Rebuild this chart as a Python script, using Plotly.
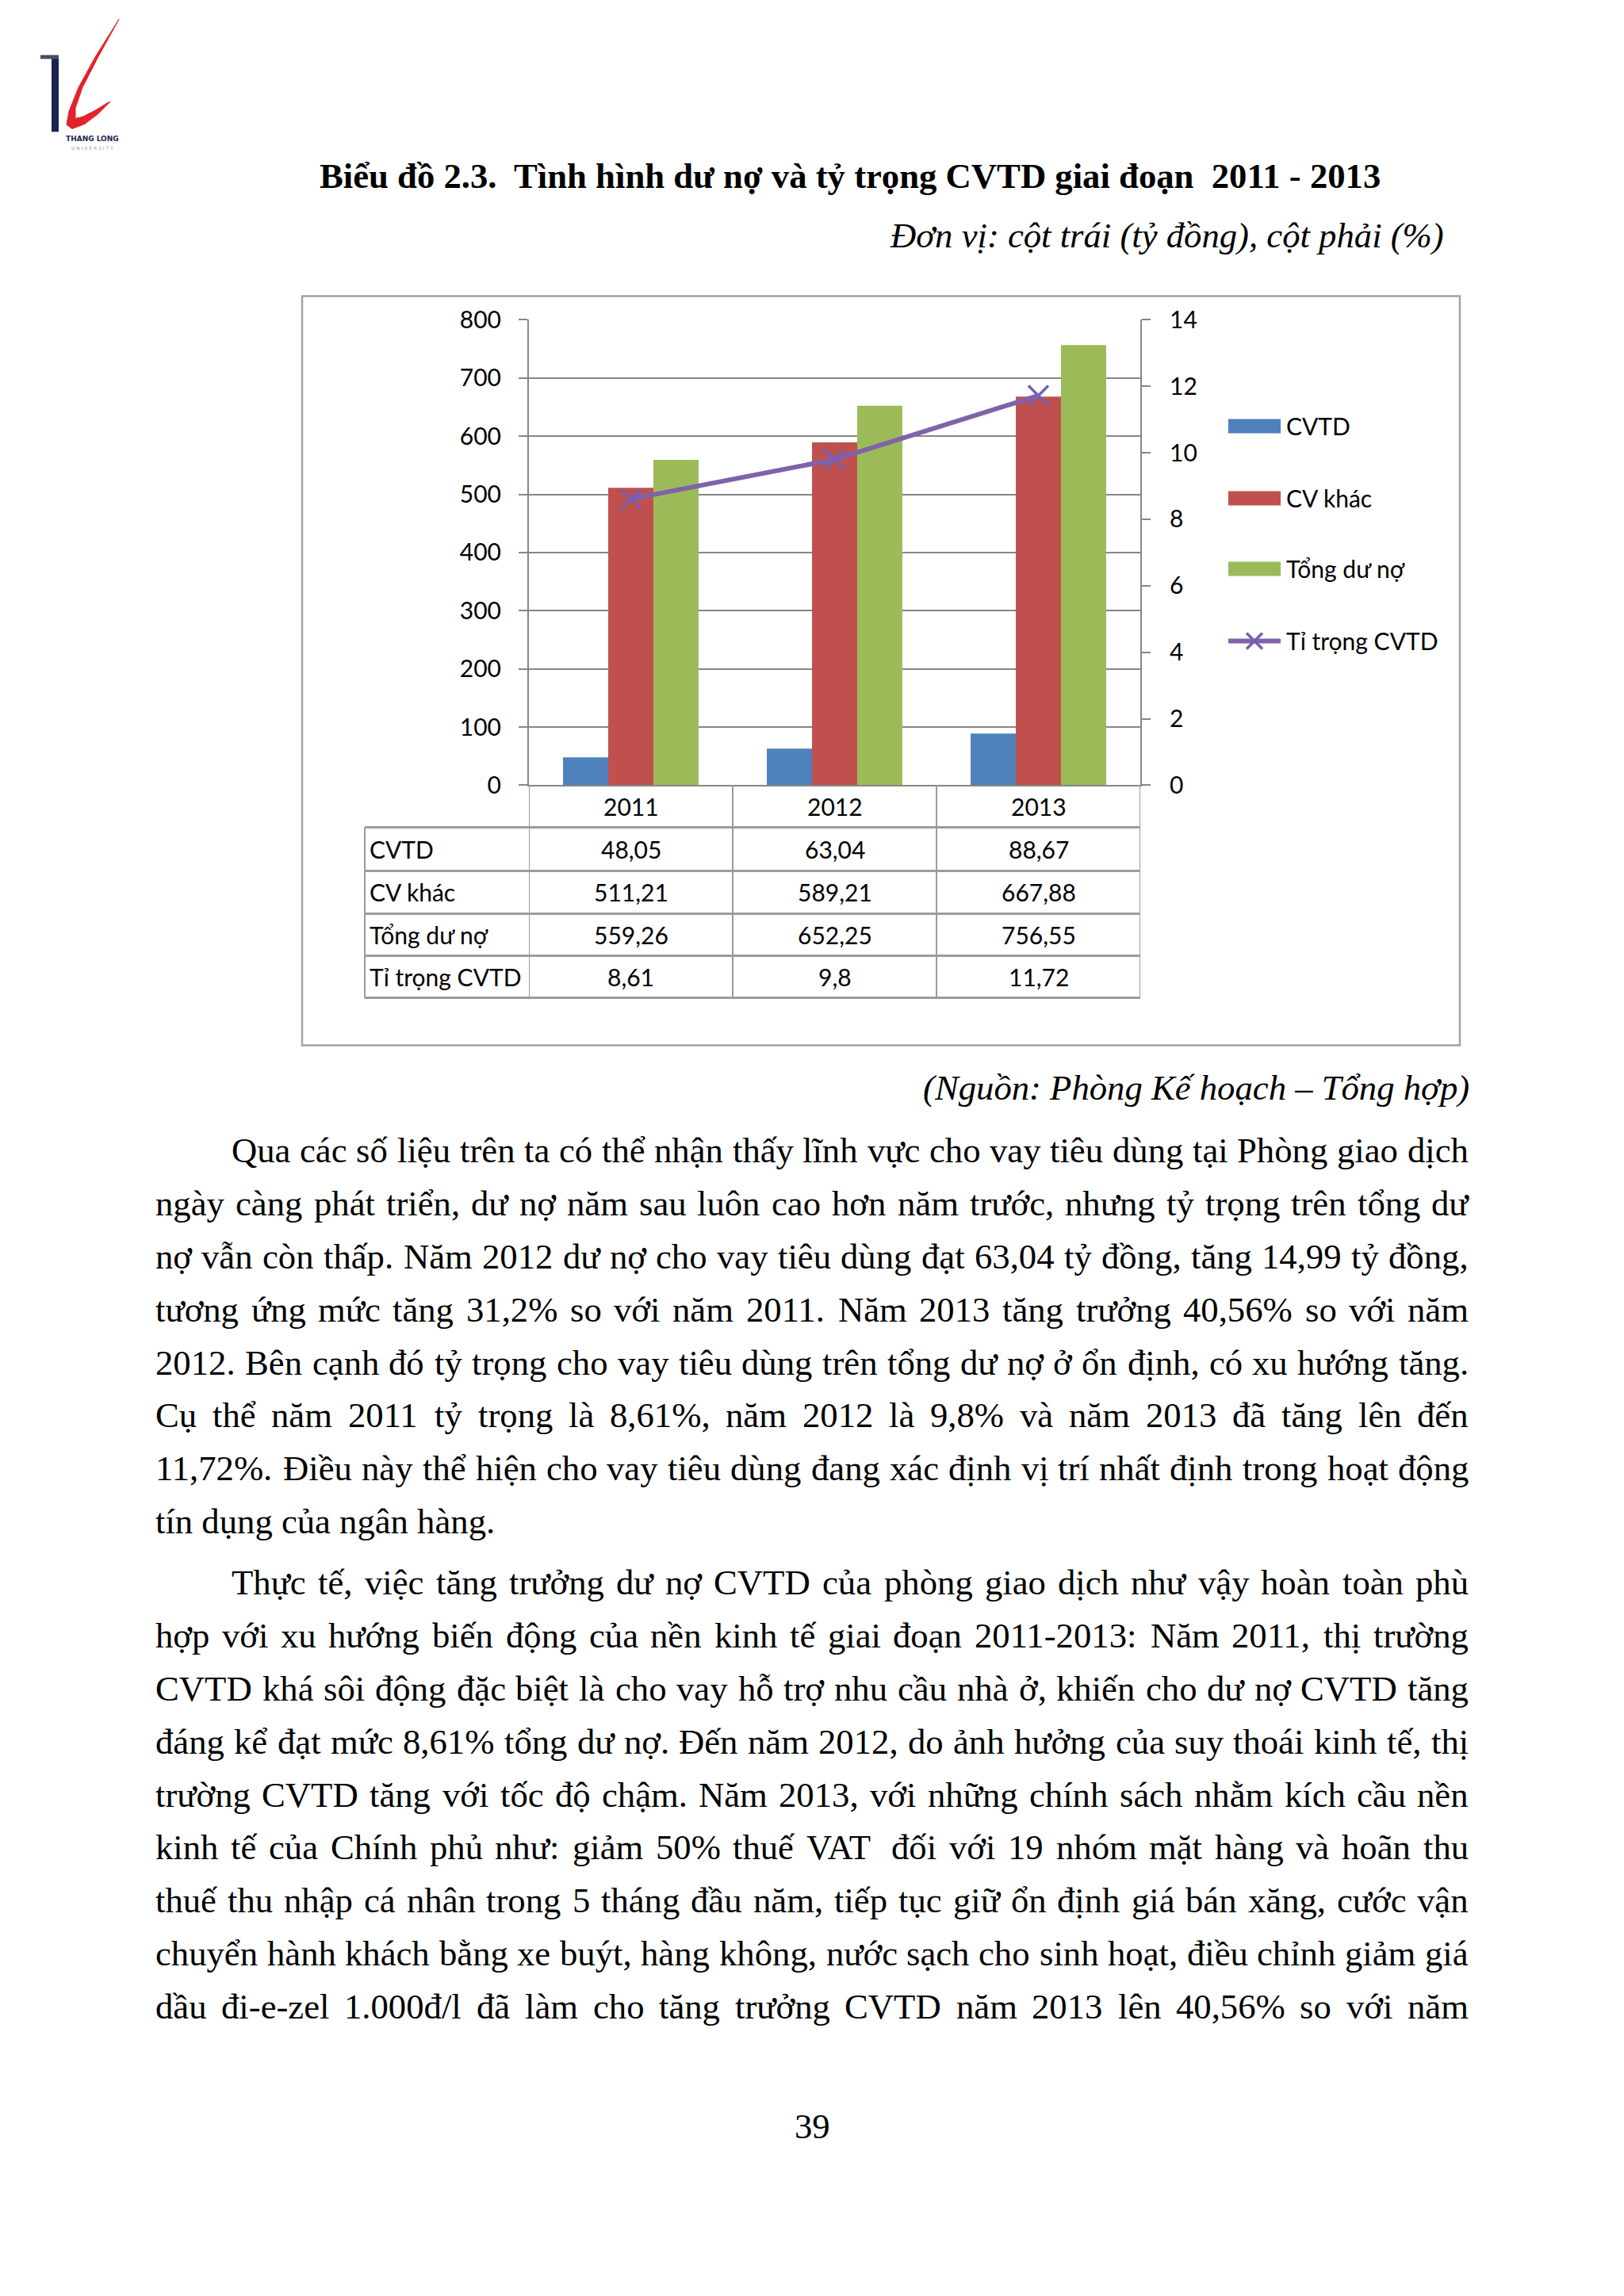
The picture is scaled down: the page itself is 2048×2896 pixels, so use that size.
import glob
import struct
import unicodedata
import plotly.graph_objects as go

# Page coordinates (px) of the 2048x2896 reference are mapped onto a figure that sits
# inside the html body (offset by the page margins).
OFF_X, OFF_Y = 8, 28
V_STRETCH = 1.0132
W, H = 2032, 2850


def PX(x):
    return (x - OFF_X) / W


def PY(y):
    return 1 - (y * V_STRETCH - OFF_Y) / H


# ---------------- data ----------------
years = ["2011", "2012", "2013"]
cvtd = [48.05, 63.04, 88.67]
cv_khac = [511.21, 589.21, 667.88]
tong_du_no = [559.26, 652.25, 756.55]
ti_trong = [8.61, 9.8, 11.72]
series_names = ["CVTD", "CV khác", "Tổng dư nợ", "Tỉ trọng CVTD"]
left_ticks = [0, 100, 200, 300, 400, 500, 600, 700, 800]
right_ticks = [0, 2, 4, 6, 8, 10, 12, 14]

title_text = "Biểu đồ 2.3.  Tình hình dư nợ và tỷ trọng CVTD giai đoạn  2011 - 2013"
unit_text = "Đơn vị: cột trái (tỷ đồng), cột phải (%)"
source_text = "(Nguồn: Phòng Kế hoạch – Tổng hợp)"
page_number = "39"

para1 = [
    "Qua các số liệu trên ta có thể nhận thấy lĩnh vực cho vay tiêu dùng tại Phòng giao dịch",
    "ngày càng phát triển, dư nợ năm sau luôn cao hơn năm trước, nhưng tỷ trọng trên tổng dư",
    "nợ vẫn còn thấp. Năm 2012 dư nợ cho vay tiêu dùng đạt 63,04 tỷ đồng, tăng 14,99 tỷ đồng,",
    "tương ứng mức tăng 31,2% so với năm 2011. Năm 2013 tăng trưởng 40,56% so với năm",
    "2012. Bên cạnh đó tỷ trọng cho vay tiêu dùng trên tổng dư nợ ở ổn định, có xu hướng tăng.",
    "Cụ thể năm 2011 tỷ trọng là 8,61%, năm 2012 là 9,8% và năm 2013 đã tăng lên đến",
    "11,72%. Điều này thể hiện cho vay tiêu dùng đang xác định vị trí nhất định trong hoạt động",
    "tín dụng của ngân hàng.",
]
para2 = [
    "Thực tế, việc tăng trưởng dư nợ CVTD của phòng giao dịch như vậy hoàn toàn phù",
    "hợp với xu hướng biến động của nền kinh tế giai đoạn 2011-2013: Năm 2011, thị trường",
    "CVTD khá sôi động đặc biệt là cho vay hỗ trợ nhu cầu nhà ở, khiến cho dư nợ CVTD tăng",
    "đáng kể đạt mức 8,61% tổng dư nợ. Đến năm 2012, do ảnh hưởng của suy thoái kinh tế, thị",
    "trường CVTD tăng với tốc độ chậm. Năm 2013, với những chính sách nhằm kích cầu nền",
    "kinh tế của Chính phủ như: giảm 50% thuế VAT đối với 19 nhóm mặt hàng và hoãn thu",
    "thuế thu nhập cá nhân trong 5 tháng đầu năm, tiếp tục giữ ổn định giá bán xăng, cước vận",
    "chuyển hành khách bằng xe buýt, hàng không, nước sạch cho sinh hoạt, điều chỉnh giảm giá",
    "dầu đi-e-zel 1.000đ/l  đã làm cho tăng trưởng CVTD năm 2013 lên 40,56% so với năm",
]

# ---------------- styles ----------------
BLUE = "#4F81BD"
RED = "#C0504D"
GREEN = "#9BBB59"
PURPLE = "#7F63A8"
MARKER = "#7460B4"
GRID = "#868686"
TABLE = "#9C9C9C"
CFONT = "Lato"
CSIZE = 30
SERIF = "Liberation Serif"
BSIZE = 44.7


def fmt(v):
    return f"{v:g}".replace(".", ",")


# ---------------- font metrics for justification ----------------
def load_width_fn(filename):
    paths = glob.glob("/usr/share/fonts/**/" + filename, recursive=True)
    paths += glob.glob("/usr/local/share/fonts/**/" + filename, recursive=True)
    if not paths:
        return None
    try:
        data = open(paths[0], "rb").read()
        u16 = lambda o: struct.unpack(">H", data[o:o + 2])[0]
        ntab = u16(4)
        tabs = {}
        for i in range(ntab):
            tag, _, off, _ln = struct.unpack(">4sIII", data[12 + 16 * i:28 + 16 * i])
            tabs[tag] = off
        upm = u16(tabs[b"head"] + 18)
        nhm = u16(tabs[b"hhea"] + 34)
        hm = tabs[b"hmtx"]
        adv = [u16(hm + 4 * i) for i in range(nhm)]
        cm = tabs[b"cmap"]
        nsub = u16(cm + 2)
        sub = None
        for i in range(nsub):
            pid, eid, off = struct.unpack(">HHI", data[cm + 4 + 8 * i:cm + 12 + 8 * i])
            if u16(cm + off) == 4 and pid == 3 and eid == 1:
                sub = cm + off
        if sub is None:
            return None
        segx2 = u16(sub + 6)
        seg = segx2 // 2
        ends = sub + 14
        starts = ends + segx2 + 2
        deltas = starts + segx2
        ros = deltas + segx2
        cache = {}

        def gid(c):
            if c in cache:
                return cache[c]
            g = 0
            for i in range(seg):
                if u16(ends + 2 * i) >= c:
                    s = u16(starts + 2 * i)
                    if s <= c:
                        d = u16(deltas + 2 * i)
                        r = u16(ros + 2 * i)
                        if r == 0:
                            g = (c + d) & 0xFFFF
                        else:
                            gg = u16(ros + 2 * i + r + 2 * (c - s))
                            g = (gg + d) & 0xFFFF if gg else 0
                    break
            cache[c] = g
            return g

        def width(s, size):
            tot = 0
            for ch in s:
                g = gid(ord(ch))
                tot += adv[min(g, nhm - 1)]
            return tot / upm * size

        return width
    except Exception:
        return None


serif_width = load_width_fn("LiberationSerif-Regular.ttf")

# ---------------- figure ----------------
fig = go.Figure()
fig.add_trace(go.Bar(x=years, y=cvtd, name=series_names[0], marker=dict(color=BLUE, line=dict(width=0))))
fig.add_trace(go.Bar(x=years, y=cv_khac, name=series_names[1], marker=dict(color=RED, line=dict(width=0))))
fig.add_trace(go.Bar(x=years, y=tong_du_no, name=series_names[2], marker=dict(color=GREEN, line=dict(width=0))))
fig.add_trace(go.Scatter(
    x=years, y=ti_trong, name=series_names[3], yaxis="y2", mode="lines+markers",
    line=dict(color=PURPLE, width=6),
    marker=dict(symbol="x-thin", size=25, line=dict(color=MARKER, width=3.5)),
))

X0, X1 = 667, 1438
Y_TOP, Y_ZERO = 403, 990

axis_common = dict(
    showline=True, linecolor=GRID, linewidth=2, ticks="outside", ticklen=11,
    tickwidth=2, tickcolor=GRID, zeroline=False,
    tickfont=dict(family=CFONT, size=CSIZE, color="#000000"),
)

fig.update_layout(
    width=W, height=H, margin=dict(l=0, r=0, t=0, b=0),
    paper_bgcolor="white", plot_bgcolor="white",
    showlegend=False, barmode="group", bargap=0.335, bargroupgap=0,
    xaxis=dict(domain=[PX(X0), PX(X1)], type="category", range=[-0.5, 2.5],
               showticklabels=False, showgrid=False, showline=True, linecolor=GRID,
               linewidth=2, ticks="", zeroline=False),
    yaxis=dict(domain=[PY(Y_ZERO), PY(Y_TOP)], range=[0, 800], tickvals=left_ticks,
               showgrid=True, gridcolor=GRID, gridwidth=2, ticklabelstandoff=16, **axis_common),
    yaxis2=dict(domain=[PY(Y_ZERO), PY(Y_TOP)], range=[0, 14], tickvals=right_ticks,
                overlaying="y", side="right", anchor="x", showgrid=False,
                ticklabelstandoff=18, **axis_common),
)

shapes = []
annots = []

# chart outer border
shapes.append(dict(type="rect", xref="paper", yref="paper", x0=PX(381), x1=PX(1841),
                   y0=PY(1318), y1=PY(373), line=dict(color="#A3A3A3", width=2.5),
                   fillcolor="rgba(0,0,0,0)", layer="below"))

# data table grid
row_lines = [1043, 1098, 1152, 1205, 1258]
T_LEFT = 460
for yy in row_lines:
    shapes.append(dict(type="line", xref="paper", yref="paper", x0=PX(T_LEFT), x1=PX(X1),
                       y0=PY(yy), y1=PY(yy), line=dict(color=TABLE, width=3)))
shapes.append(dict(type="line", xref="paper", yref="paper", x0=PX(T_LEFT), x1=PX(T_LEFT),
                   y0=PY(row_lines[0]), y1=PY(row_lines[-1]), line=dict(color=TABLE, width=2)))
for b in [-0.5, 0.5, 1.5, 2.5]:
    shapes.append(dict(type="line", xref="x", yref="paper", x0=b, x1=b,
                       y0=PY(Y_ZERO), y1=PY(row_lines[-1]), line=dict(color=TABLE, width=2)))

tfont = dict(family=CFONT, size=CSIZE, color="#000000")
for i, yr in enumerate(years):
    annots.append(dict(x=i, xref="x", y=PY((Y_ZERO + row_lines[0]) / 2), yref="paper",
                       text=yr, showarrow=False, font=tfont, xanchor="center", yanchor="middle"))
rows = [cvtd, cv_khac, tong_du_no, ti_trong]
for r, (name, vals) in enumerate(zip(series_names, rows)):
    yc = (row_lines[r] + row_lines[r + 1]) / 2
    annots.append(dict(x=PX(466), xref="paper", y=PY(yc), yref="paper", text=name,
                       showarrow=False, font=tfont, xanchor="left", yanchor="middle",
                       borderpad=0, borderwidth=0))
    for i, v in enumerate(vals):
        annots.append(dict(x=i, xref="x", y=PY(yc), yref="paper", text=fmt(v),
                           showarrow=False, font=tfont, xanchor="center", yanchor="middle"))

# custom legend
leg_y = [537, 628, 717, 808]
LX0, LX1 = 1549, 1615
for i, col in enumerate([BLUE, RED, GREEN]):
    shapes.append(dict(type="rect", xref="paper", yref="paper", x0=PX(LX0), x1=PX(LX1),
                       y0=PY(leg_y[i] + 9), y1=PY(leg_y[i] - 9), fillcolor=col,
                       line=dict(width=0)))
shapes.append(dict(type="line", xref="paper", yref="paper", x0=PX(LX0), x1=PX(LX1),
                   y0=PY(leg_y[3]), y1=PY(leg_y[3]), line=dict(color=PURPLE, width=6)))
cx = (LX0 + LX1) / 2
for dx in (-1, 1):
    shapes.append(dict(type="line", xref="paper", yref="paper", x0=PX(cx - 10), x1=PX(cx + 10),
                       y0=PY(leg_y[3] - 10 * dx), y1=PY(leg_y[3] + 10 * dx),
                       line=dict(color=MARKER, width=3.5)))
for i, name in enumerate(series_names):
    annots.append(dict(x=PX(1622), xref="paper", y=PY(leg_y[i]), yref="paper", text=name,
                       showarrow=False, font=tfont, xanchor="left", yanchor="middle",
                       borderpad=0, borderwidth=0))

# ---------------- page text ----------------
sfont = dict(family=SERIF, size=BSIZE, color="#000000")
annots.append(dict(x=PX(403), y=PY(222), xref="paper", yref="paper", text="<b>" + title_text + "</b>",
                   showarrow=False, xanchor="left", yanchor="middle", borderpad=0, borderwidth=0,
                   font=sfont))
annots.append(dict(x=PX(1821), y=PY(297), xref="paper", yref="paper", text="<i>" + unit_text + "</i>",
                   showarrow=False, xanchor="right", yanchor="middle", borderpad=0, borderwidth=0,
                   font=sfont))
annots.append(dict(x=PX(1853), y=PY(1372), xref="paper", yref="paper", text="<i>" + source_text + "</i>",
                   showarrow=False, xanchor="right", yanchor="middle", borderpad=0, borderwidth=0,
                   font=sfont))
annots.append(dict(x=PX(1024), y=PY(2682), xref="paper", yref="paper", text=page_number,
                   showarrow=False, xanchor="center", yanchor="middle", borderpad=0, borderwidth=0,
                   font=sfont))

BODY_L, BODY_R, INDENT = 196, 1852, 292


def add_line(text, yc_px, left, justify):
    text = unicodedata.normalize("NFC", text)
    yc = PY(yc_px)
    words = text.split()
    if (not justify) or serif_width is None or len(words) < 2:
        annots.append(dict(x=PX(left), y=yc, xref="paper", yref="paper", text=text,
                           showarrow=False, xanchor="left", yanchor="middle",
                           borderpad=0, borderwidth=0, font=sfont))
        return
    ws = [serif_width(w, BSIZE) for w in words]
    gap = (BODY_R - left - sum(ws)) / (len(words) - 1)
    x = left
    for w, wd in zip(words, ws):
        annots.append(dict(x=PX(x), y=yc, xref="paper", yref="paper", text=w,
                           showarrow=False, xanchor="left", yanchor="middle",
                           borderpad=0, borderwidth=0, font=sfont))
        x += wd + gap


LINE_STEP = 66.9
P1_START, P2_START = 1450.5, 1995.5
for i, ln in enumerate(para1):
    add_line(ln, P1_START + i * LINE_STEP, INDENT if i == 0 else BODY_L,
             justify=(i != len(para1) - 1))
for i, ln in enumerate(para2):
    add_line(ln, P2_START + i * LINE_STEP, INDENT if i == 0 else BODY_L, justify=True)

# ---------------- logo ----------------
NAVY = "#1B2550"
shapes.append(dict(type="rect", xref="paper", yref="paper", x0=PX(65), x1=PX(74),
                   y0=PY(166), y1=PY(70), fillcolor=NAVY, line=dict(width=0)))
shapes.append(dict(type="rect", xref="paper", yref="paper", x0=PX(51), x1=PX(74),
                   y0=PY(74), y1=PY(69), fillcolor="#4A4F66", line=dict(width=0)))
outer = [(150, 24), (121, 70), (99, 110), (87, 140), (84, 157), (91, 162), (107, 156),
         (124, 143), (139, 128)]
inner = [(136, 129), (120, 139), (104, 147), (95, 149), (95, 136), (104, 110), (124, 71)]
pts = outer + inner
path = "M " + " L ".join(f"{PX(x):.5f},{PY(y):.5f}" for x, y in pts) + " Z"
shapes.append(dict(type="path", xref="paper", yref="paper", path=path,
                   fillcolor="#E2232A", line=dict(color="#E2232A", width=1)))
annots.append(dict(x=PX(116), y=PY(175), xref="paper", yref="paper", text="<b>THANG LONG</b>",
                   showarrow=False, xanchor="center", yanchor="middle",
                   font=dict(family="DejaVu Sans", size=9, color=NAVY)))
annots.append(dict(x=PX(116), y=PY(186), xref="paper", yref="paper", text="U N I V E R S I T Y",
                   showarrow=False, xanchor="center", yanchor="middle",
                   font=dict(family="DejaVu Sans", size=6, color="#9A9A9A")))

fig.update_layout(shapes=shapes, annotations=annots)
fig.write_html("out.html")
